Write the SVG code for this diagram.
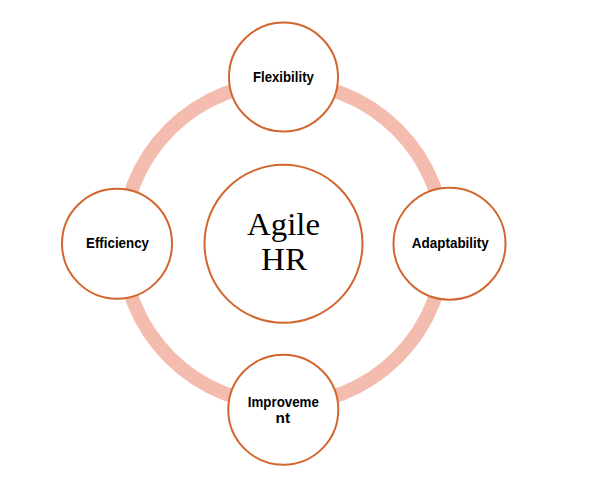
<svg xmlns="http://www.w3.org/2000/svg" width="592" height="497" viewBox="0 0 592 497">
<style>
.node{fill:#FFFFFF;stroke:#D2662E;stroke-width:2}
.lbl{font-family:"Liberation Sans",Arial,sans-serif;font-weight:bold;font-size:15.5px;fill:#000000;text-anchor:middle}
.hub{font-family:"Liberation Serif","Times New Roman",serif;font-size:32px;fill:#000000;text-anchor:middle}
</style>
<rect width="592" height="497" fill="#FFFFFF"/>
<g id="connectors">
<circle cx="283.5" cy="243.5" r="161" fill="none" stroke="#F4BCAE" stroke-width="14"/>
</g>
<g id="node-center">
<circle class="node" cx="283.5" cy="243.8" r="79"/>
<text class="hub" x="283.5" y="235" textLength="73" lengthAdjust="spacingAndGlyphs">Agile</text>
<text class="hub" x="284" y="270" textLength="46" lengthAdjust="spacingAndGlyphs">HR</text>
</g>
<g id="node-flexibility">
<circle class="node" cx="283.5" cy="77" r="54.5"/>
<text class="lbl" x="283.4" y="82.3" textLength="61" lengthAdjust="spacingAndGlyphs">Flexibility</text>
</g>
<g id="node-adaptability">
<circle class="node" cx="449.5" cy="243.7" r="56"/>
<text class="lbl" x="450.3" y="248.3" textLength="77" lengthAdjust="spacingAndGlyphs">Adaptability</text>
</g>
<g id="node-improvement">
<circle class="node" cx="283.3" cy="409.7" r="55"/>
<text class="lbl" x="283.3" y="406.7" textLength="71" lengthAdjust="spacingAndGlyphs">Improveme</text>
<text class="lbl" x="282.8" y="422.7" textLength="14.5" lengthAdjust="spacingAndGlyphs">nt</text>
</g>
<g id="node-efficiency">
<circle class="node" cx="117" cy="243.7" r="55"/>
<text class="lbl" x="117.5" y="248.3" textLength="63" lengthAdjust="spacingAndGlyphs">Efficiency</text>
</g>
</svg>
